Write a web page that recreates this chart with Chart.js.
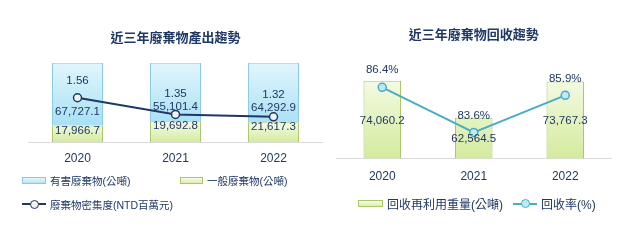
<!DOCTYPE html>
<html>
<head>
<meta charset="utf-8">
<script src="https://cdn.jsdelivr.net/npm/chart.js@4/dist/chart.umd.min.js"></script>
<style>
  body { margin: 0; background: #fff; }
  #wrap { position: relative; width: 641px; height: 250px; overflow: hidden; }
  canvas { position: absolute; top: 0; }
  #left { left: 0; }
  #right { left: 328px; }
  .lg { position: absolute; display: flex; align-items: center; white-space: nowrap;
        font-family: 'Liberation Sans', 'Noto Sans CJK TC', sans-serif; color: #1F3864; }
  .box { display: inline-block; box-sizing: border-box; margin-right: 4px; }
  .ln { position: relative; display: inline-block; height: 2px; margin-right: 4px; }
  .ln i { position: absolute; left: 50%; top: 50%; width: 7px; height: 7px; margin: -4.5px 0 0 -4.5px;
          border-radius: 50%; border: 1px solid; box-sizing: content-box; }
</style>
</head>
<body>
<div id="wrap">
  <canvas id="left" width="328" height="250"></canvas>
  <canvas id="right" width="313" height="250"></canvas>
</div>
<script>
// data
var years = ['2020', '2021', '2022'];
var hazardous = [67727.1, 55101.4, 64292.9];   // 有害廢棄物(公噸)
var general = [17966.7, 19692.8, 21617.3];     // 一般廢棄物(公噸)
var intensity = [1.56, 1.35, 1.32];            // 廢棄物密集度(NTD百萬元)
var recycled = [74060.2, 62564.5, 73767.3];    // 回收再利用重量(公噸)
var recycleRate = [86.4, 83.6, 85.9];          // 回收率(%)

var NAVY = '#1F3864';
var FONT = "'Liberation Sans', 'Noto Sans CJK TC', sans-serif";

// bars in the first chart are drawn as a 100% stack
var totals = hazardous.map(function (v, i) { return v + general[i]; });
var hazShare = hazardous.map(function (v, i) { return v / totals[i] * 100; });
var genShare = general.map(function (v, i) { return v / totals[i] * 100; });

function fmt1(v) { return v.toLocaleString('en-US', { minimumFractionDigits: 1, maximumFractionDigits: 1 }); }

function vGrad(chart, stops, from, to) {
  var a = chart.chartArea;
  if (!a) return stops[0][1];
  var y0 = a.top + (a.bottom - a.top) * from, y1 = a.top + (a.bottom - a.top) * to;
  var g = chart.ctx.createLinearGradient(0, y0, 0, y1);
  stops.forEach(function (s) { g.addColorStop(s[0], s[1]); });
  return g;
}
var blueStops = [[0, '#E2F6FD'], [1, '#A9E0F5']];
var greenStops = [[0, '#F5FBE6'], [1, '#D4EB9E']];

// value labels drawn on top of the marks
var valueLabels = {
  id: 'valueLabels',
  afterDatasetsDraw: function (chart, args, opts) {
    var c = chart.ctx;
    c.save();
    c.font = '11.5px ' + FONT;
    c.fillStyle = NAVY;
    c.textAlign = 'center';
    c.textBaseline = 'middle';
    chart.data.datasets.forEach(function (ds, i) {
      var meta = chart.getDatasetMeta(i);
      meta.data.forEach(function (el, j) {
        var p = opts.place(chart, ds, el, j);
        c.fillText(ds.text(j), el.x, p);
      });
    });
    c.restore();
  }
};

function xScale(pad) {
  return {
    grid: { display: false, drawTicks: false },
    border: { display: true, color: '#DADADA', width: 1 },
    ticks: { color: NAVY, font: { size: 12, family: FONT }, padding: pad }
  };
}

function titleOpts(text, bottom) {
  return {
    display: true, text: text, fullSize: false, color: NAVY,
    font: { size: 13, weight: 'bold', family: FONT, lineHeight: 1.2 },
    padding: { top: 0, bottom: bottom }
  };
}

// left chart: waste generation
var leftChart = new Chart(document.getElementById('left'), {
  data: {
    labels: years,
    datasets: [{
      type: 'line', label: '廢棄物密集度(NTD百萬元)', data: intensity, yAxisID: 'y1', order: 0,
      borderColor: NAVY, borderWidth: 2, pointRadius: 4, pointBorderWidth: 1.5,
      pointBackgroundColor: '#F2F2F2', pointBorderColor: NAVY,
      text: function (j) { return intensity[j].toFixed(2); }, kind: 'line'
    }, {
      type: 'bar', label: '一般廢棄物(公噸)', data: genShare, stack: 's', order: 1,
      backgroundColor: function (ctx) { return vGrad(ctx.chart, greenStops, 0.75, 1); },
      borderColor: '#A9C86A', borderWidth: 1,
      text: function (j) { return fmt1(general[j]); }, kind: 'gen'
    }, {
      type: 'bar', label: '有害廢棄物(公噸)', data: hazShare, stack: 's', order: 2,
      backgroundColor: function (ctx) { return vGrad(ctx.chart, blueStops, 0, 0.78); },
      borderColor: '#86CBE6', borderWidth: 1,
      text: function (j) { return fmt1(hazardous[j]); }, kind: 'haz'
    }]
  },
  options: {
    responsive: false, animation: false, devicePixelRatio: 1,
    layout: { padding: { left: 28.5, right: 5.5, top: 30.6, bottom: 75.4 } },
    datasets: { bar: { categoryPercentage: 1, barPercentage: 0.52 } },
    scales: {
      x: Object.assign(xScale(9), { stacked: true }),
      y: { display: false, stacked: true, min: 0, max: 100 },
      y1: { display: false, min: 1, max: 2 }
    },
    plugins: {
      legend: { display: false },
      tooltip: { enabled: false },
      title: titleOpts('近三年廢棄物產出趨勢', 16.6),
      valueLabels: {
        place: function (chart, ds, el, j) {
          if (ds.kind === 'haz') return el.base - 14;
          if (ds.kind === 'gen') return el.y + 5;
          var haz = chart.getDatasetMeta(2).data[j];
          return Math.min(el.y - 17, haz.base - 14 - 13);
        }
      }
    }
  },
  plugins: [valueLabels]
});

// right chart: recycling
var rightChart = new Chart(document.getElementById('right'), {
  data: {
    labels: years,
    datasets: [{
      type: 'line', label: '回收率(%)', data: recycleRate, yAxisID: 'y1', order: 0,
      borderColor: '#4BACC6', borderWidth: 2, pointRadius: 4, pointBorderWidth: 1.5,
      pointBackgroundColor: '#BDEAF5', pointBorderColor: '#4BACC6',
      text: function (j) { return recycleRate[j].toFixed(1) + '%'; }, kind: 'line'
    }, {
      type: 'bar', label: '回收再利用重量(公噸)', data: recycled, order: 1,
      backgroundColor: function (ctx) { return vGrad(ctx.chart, greenStops, 0.15, 1); },
      borderColor: '#A9C86A', borderWidth: 1,
      text: function (j) { return fmt1(recycled[j]); }, kind: 'bar'
    }]
  },
  options: {
    responsive: false, animation: false, devicePixelRatio: 1,
    layout: { padding: { left: 8.5, right: 30, top: 27.6, bottom: 55.4 } },
    datasets: { bar: { categoryPercentage: 1, barPercentage: 0.41 } },
    scales: {
      x: xScale(11),
      y: { display: false, min: 50000, max: 80000 },
      y1: { display: false, min: 82, max: 88 }
    },
    plugins: {
      legend: { display: false },
      tooltip: { enabled: false },
      title: titleOpts('近三年廢棄物回收趨勢', 18.3),
      valueLabels: {
        place: function (chart, ds, el, j) {
          if (ds.kind === 'bar') return (el.y + Math.min(el.base, chart.chartArea.bottom)) / 2 + 1;
          return el.y - 17;
        }
      }
    }
  },
  plugins: [valueLabels]
});

// html legends built from the datasets
function legendItem(ds, x, y, size, symW, isBox, boxFill) {
  var d = document.createElement('div');
  d.className = 'lg';
  d.style.left = x + 'px';
  d.style.top = (y - 8) + 'px';
  d.style.height = '16px';
  d.style.fontSize = size + 'px';
  var s = document.createElement('span');
  if (isBox) {
    s.className = 'box';
    s.style.width = symW + 'px';
    s.style.height = '7px';
    s.style.border = '1px solid ' + ds.borderColor;
    s.style.background = boxFill;
  } else {
    s.className = 'ln';
    s.style.width = symW + 'px';
    s.style.background = ds.borderColor;
    var m = document.createElement('i');
    m.style.background = ds.pointBackgroundColor;
    m.style.borderColor = ds.pointBorderColor;
    s.appendChild(m);
  }
  d.appendChild(s);
  d.appendChild(document.createTextNode(ds.label));
  document.getElementById('wrap').appendChild(d);
}
var blueCss = 'linear-gradient(#E2F6FD, #B8E6F7)';
var greenCss = 'linear-gradient(#F5FBE6, #DCEFB0)';
var L = leftChart.data.datasets, R = rightChart.data.datasets;
legendItem(L[2], 22, 180, 10.5, 24, true, blueCss);
legendItem(L[1], 180, 180, 10.5, 23, true, greenCss);
legendItem(L[0], 22, 204, 10.5, 24, false);
legendItem(R[1], 358, 203.5, 12, 25, true, greenCss);
legendItem(R[0], 513, 203.5, 12, 24, false);
</script>
</body>
</html>
